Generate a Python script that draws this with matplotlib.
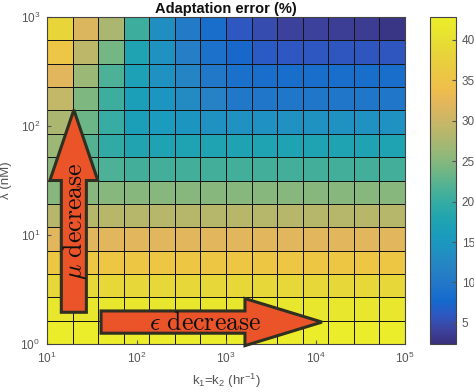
import numpy as np
import matplotlib
matplotlib.use("Agg")
import matplotlib.pyplot as plt
from matplotlib.colors import LinearSegmentedColormap
from matplotlib.patches import Polygon

# ---- data ----
k_decades = [1, 5]          # log10 range of k1=k2
lam_decades = [0, 3]        # log10 range of lambda
n_cols = 14
n_rows = 14
# adaptation error (%) rows from lambda=1 (bottom) to lambda=1000 (top), columns k low -> high
err_row0 = [42.5] * 14
err_row1 = [41.3] * 14
err_row2 = [38.8] * 14
err_row3 = [35.8] * 14
err_row4 = [32.0] * 14
err_row5 = [28.5] * 14
err_row6 = [25.0] * 14
err_row7 = [25.5, 22.5, 21.5, 21.0, 21.0, 21.0, 21.0, 21.0, 21.0, 21.0, 21.0, 21.0, 21.0, 21.0]
err_row8 = [26.5, 22.0, 19.5, 18.0, 17.5, 17.5, 17.5, 17.5, 17.5, 17.5, 17.5, 17.5, 17.5, 17.5]
err_row9 = [27.5, 23.5, 20.0, 16.5, 15.5, 14.5, 14.0, 14.0, 14.0, 14.0, 14.0, 14.0, 14.0, 14.0]
err_row10 = [29.5, 24.5, 20.5, 16.5, 14.5, 13.0, 11.5, 10.0, 9.8, 9.8, 9.8, 9.8, 9.8, 9.8]
err_row11 = [32.0, 26.5, 21.5, 17.0, 14.0, 12.0, 10.0, 8.8, 8.5, 8.5, 8.5, 8.5, 8.5, 8.4]
err_row12 = [35.5, 29.0, 24.0, 17.5, 14.0, 11.0, 9.0, 7.5, 6.2, 6.0, 6.0, 5.8, 5.8, 5.8]
err_row13 = [38.5, 31.5, 27.5, 20.5, 13.5, 10.5, 8.5, 6.0, 5.0, 4.0, 4.0, 3.8, 3.6, 3.0]
error_rows = [err_row0, err_row1, err_row2, err_row3, err_row4, err_row5, err_row6,
              err_row7, err_row8, err_row9, err_row10, err_row11, err_row12, err_row13]
clim = [2.4, 42.8]
cbar_ticks = [5, 10, 15, 20, 25, 30, 35, 40]

# ---- parula colormap (slightly muted, as in the reference image) ----
parula_pts = np.array([
    (0.2081, 0.1663, 0.5292), (0.2081, 0.2386, 0.6771), (0.1253, 0.3242, 0.8303),
    (0.0060, 0.4086, 0.8828), (0.0498, 0.4586, 0.8641), (0.0779, 0.5040, 0.8384),
    (0.0641, 0.5570, 0.8240), (0.0265, 0.6137, 0.8135), (0.0228, 0.6535, 0.7768),
    (0.0590, 0.6838, 0.7254), (0.1453, 0.7098, 0.6646), (0.2586, 0.7317, 0.5954),
    (0.3953, 0.7459, 0.5244), (0.5300, 0.7491, 0.4661), (0.6473, 0.7456, 0.4188),
    (0.7525, 0.7384, 0.3768), (0.8507, 0.7299, 0.3360), (0.9450, 0.7261, 0.2886),
    (0.9990, 0.7653, 0.2164), (0.9880, 0.8066, 0.1794), (0.9697, 0.8481, 0.1475),
    (0.9589, 0.8949, 0.1132), (0.9661, 0.9514, 0.0755), (0.9763, 0.9831, 0.0538),
])
lum = parula_pts.mean(axis=1, keepdims=True)
muted = np.clip(lum + 0.82 * (parula_pts - lum), 0, 1)
parula = LinearSegmentedColormap.from_list("parula", muted, N=256)

plt.rcParams['font.family'] = ['Liberation Sans', 'DejaVu Sans']
plt.rcParams['mathtext.fontset'] = 'custom'
plt.rcParams['mathtext.rm'] = 'Liberation Sans'
plt.rcParams['mathtext.it'] = 'Liberation Sans:italic'
plt.rcParams['mathtext.bf'] = 'Liberation Sans:bold'

fig = plt.figure(figsize=(4.74, 3.92), dpi=100)
ax = fig.add_axes([47/474, 48/392, 358/474, 327/392])
cax = fig.add_axes([430/474, 48/392, 26/474, 327/392])

k_edges = np.logspace(k_decades[0], k_decades[1], n_cols + 1)
lam_edges = np.logspace(lam_decades[0], lam_decades[1], n_rows + 1)
Z = np.array(error_rows)

mesh = ax.pcolormesh(k_edges, lam_edges, Z, cmap=parula, vmin=clim[0], vmax=clim[1],
                     edgecolor='#151515', linewidth=0.6)
ax.set_xscale('log')
ax.set_yscale('log')
ax.set_xlim(10**k_decades[0], 10**k_decades[1])
ax.set_ylim(10**lam_decades[0], 10**lam_decades[1])
ax.minorticks_off()
gray = '#555555'
ax.tick_params(direction='in', length=3, colors=gray, labelsize=8.5, pad=5)
for s in ax.spines.values():
    s.set_color('#444444')
    s.set_linewidth(0.8)

ax.set_title('Adaptation error (%)', fontsize=10.5, fontweight='bold', color='#111111', pad=3)
ax.set_xlabel(r'k$_1$=k$_2$ (hr$^{-1}$)', fontsize=9.5, color=gray, labelpad=4)
ax.set_ylabel('λ (nM)', fontsize=9.5, color=gray, labelpad=6)

cb = fig.colorbar(mesh, cax=cax, ticks=cbar_ticks)
cb.outline.set_edgecolor('#444444')
cb.outline.set_linewidth(0.8)
cax.tick_params(direction='in', length=3, colors=gray, labelsize=8.5, pad=4)

# ---- arrows ----
arrow_fc = '#EA5428'
arrow_ec = '#2f2f22'
xc, sw, hw, y0, yb, yt = 0.075, 0.035, 0.067, 0.097, 0.50, 0.716
vpts = [(xc - sw, y0), (xc + sw, y0), (xc + sw, yb), (xc + hw, yb), (xc, yt),
        (xc - hw, yb), (xc - sw, yb)]
ax.add_patch(Polygon(vpts, closed=True, transform=ax.transAxes, facecolor=arrow_fc,
                     edgecolor=arrow_ec, linewidth=2.2, clip_on=False, zorder=5))
x0, xb, xt, yc, sh, hh = 0.151, 0.553, 0.768, 0.067, 0.034, 0.072
hpts = [(x0, yc - sh), (xb, yc - sh), (xb, yc - hh), (xt, yc), (xb, yc + hh),
        (xb, yc + sh), (x0, yc + sh)]
ax.add_patch(Polygon(hpts, closed=True, transform=ax.transAxes, facecolor=arrow_fc,
                     edgecolor=arrow_ec, linewidth=2.2, clip_on=False, zorder=5))

ax.text(0.078, 0.376, r'$\mu\ \mathrm{decrease}$', transform=ax.transAxes, rotation=90,
        ha='center', va='center', fontsize=18.5, math_fontfamily='cm', color='#111111', zorder=6)
ax.text(0.442, 0.064, r'$\epsilon\ \mathrm{decrease}$', transform=ax.transAxes,
        ha='center', va='center', fontsize=18.5, math_fontfamily='cm', color='#111111', zorder=6)

fig.savefig('out.png', dpi=100)
